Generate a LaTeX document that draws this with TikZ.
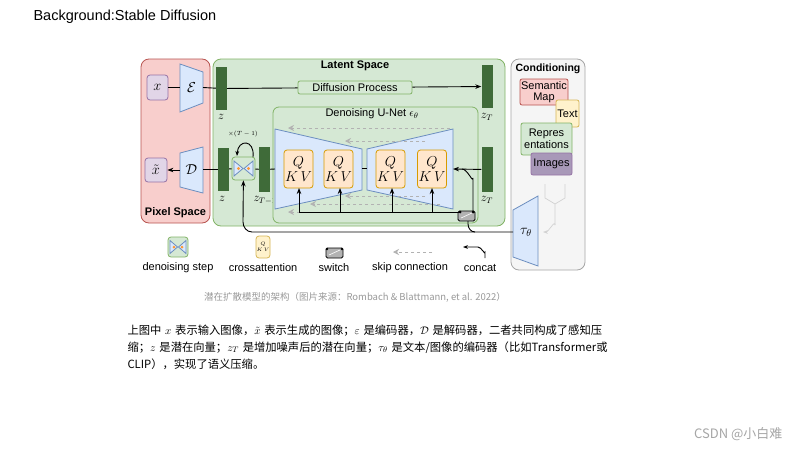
\documentclass[tikz,border=0pt]{standalone}
\usepackage{fontspec}
\setmainfont{Liberation Sans}
\newfontfamily\cjk{Noto Sans CJK SC}
\usetikzlibrary{arrows.meta}
\definecolor{pixfill}{HTML}{F8CECC}\definecolor{pixline}{HTML}{B85450}
\definecolor{latfill}{HTML}{D5E8D4}\definecolor{latline}{HTML}{82B366}
\definecolor{blufill}{HTML}{DAE8FC}\definecolor{bluline}{HTML}{6C8EBF}
\definecolor{orafill}{HTML}{FFE6CC}\definecolor{oraline}{HTML}{D79B00}
\definecolor{yelfill}{HTML}{FFF2CC}\definecolor{yelline}{HTML}{D6B656}
\definecolor{purfill}{HTML}{E1D5E7}\definecolor{purline}{HTML}{9673A6}
\definecolor{imgfill}{HTML}{A898B8}\definecolor{zbar}{HTML}{3F6B39}
\tikzset{
  bar/.style={fill=zbar, draw=none, minimum width=11pt, minimum height=43pt, inner sep=0},
  box/.style={rounded corners=3pt, line width=0.8pt, inner sep=0, align=center},
  qkv/.style={box, fill=orafill, draw=oraline, minimum width=29pt, minimum height=38pt, font=\Large},
  lab/.style={font=\fontsize{11}{11.5}\selectfont},
  flow/.style={line width=0.9pt, black},
  skip/.style={gray!60, dashed, line width=0.7pt, -{Stealth[length=6pt,width=6pt]}},
  tri/.style={fill=blufill, draw=bluline, line width=0.8pt}
}
\begin{document}
\begin{tikzpicture}[x=1pt,y=-1pt]
\useasboundingbox (0,0) rectangle (800,450);
\fill[white] (0,0) rectangle (800,450);

\node[anchor=west, font=\fontsize{14.5}{15}\selectfont] (title) at (30,17) {Background:Stable Diffusion};

% spaces
\node[box, fill=pixfill, draw=pixline, minimum width=69pt, minimum height=164pt, rounded corners=8pt] (pix) at (175.5,141) {};
\node[box, fill=latfill, draw=latline, minimum width=292pt, minimum height=167pt, rounded corners=8pt] (lat) at (359,142.5) {};
\node[box, fill=gray!8, draw=gray!70, minimum width=74pt, minimum height=211pt, rounded corners=8pt] (cond) at (548,164.5) {};
\node[font=\bfseries\fontsize{11}{12}\selectfont] (latlab) at (355,66) {Latent Space};
\node[font=\bfseries\fontsize{11}{12}\selectfont] (pixlab) at (175.5,213) {Pixel Space};
\node[font=\bfseries\fontsize{10.5}{12}\selectfont] (condlab) at (548,69) {Conditioning};

% conditioning inputs
\node[box, fill=pixfill, draw=pixline, minimum width=48pt, minimum height=26pt, lab, rounded corners=2pt] (sem) at (544,92) {Semantic\\Map};
\node[box, fill=yelfill, draw=yelline, minimum width=23pt, minimum height=27pt, lab, rounded corners=2pt] (txt) at (567.5,113.5) {Text};
\node[box, fill=latfill, draw=latline, minimum width=51pt, minimum height=32pt, lab, rounded corners=2pt] (rep) at (546.5,139) {Repres\\entations};
\node[box, fill=imgfill, draw=purline, minimum width=41pt, minimum height=22pt, lab, rounded corners=2pt] (img) at (551.5,164) {Images};
\draw[gray!35, line width=0.7pt] (545,184) -- (545,198) -- (555,204) (565,184) -- (565,198) -- (555,204) (555,204) -- (555,225);
\draw[gray!35, line width=0.7pt, -{Stealth[length=5pt]}] (555,225) to[out=90,in=0] (543,232);

% encoder / decoder
\node[box, fill=purfill, draw=purline, minimum width=21pt, minimum height=25pt, font=\Large] (x) at (157.5,87.5) {$x$};
\draw[tri] (180,64) -- (203,72) -- (203,103) -- (180,112) -- cycle;
\node[font=\Large] (E) at (191.5,88) {$\mathcal{E}$};
\node[box, fill=purfill, draw=purline, minimum width=22pt, minimum height=24pt, font=\Large] (xt) at (156,170) {$\tilde{x}$};
\draw[tri] (180,153) -- (203,147) -- (203,193) -- (180,187) -- cycle;
\node[font=\Large] (D) at (191.5,170) {$\mathcal{D}$};

% latents
\node[bar] (z1) at (221.5,88.5) {};
\node[font=\large] (z1lab) at (221,117) {$z$};
\node[bar] (zT1) at (487,86.5) {};
\node[font=\large] (zT1lab) at (487,117) {$z_T$};
\node[box, fill=latfill, draw=latline, minimum width=114pt, minimum height=13pt, lab, rounded corners=2pt] (diff) at (355,87.5) {Diffusion Process};

\node[bar] (z2) at (223.5,169) {};
\node[font=\large] (z2lab) at (222,199) {$z$};
\node[bar, minimum height=45pt] (zTm) at (264.5,169.5) {};
\node[font=\large] (zTmlab) at (265,200) {$z_{T-1}$};
\node[bar, minimum height=45pt] (zT2) at (487,169.5) {};
\node[font=\large] (zT2lab) at (487,200) {$z_T$};

% unet
\node[box, fill=latfill, draw=latline, minimum width=205pt, minimum height=116pt, rounded corners=6pt] (unet) at (375.5,165) {};
\node[lab] (unetlab) at (372,114) {Denoising U-Net $\epsilon_\theta$};
\draw[tri] (275,129) -- (362,149) -- (362,190) -- (275,209) -- cycle;
\draw[tri] (367,149) -- (453,129) -- (453,209) -- (367,190) -- cycle;
\coordinate (uin) at (275,169);
\coordinate (uout) at (453,169);
\draw[skip] (450,128) -- (288,128);
\draw[skip] (425,141) -- (345,141);
\draw[skip] (425,196) -- (345,196);
\draw[skip] (440,204) -- (310,204);
\draw[skip] (450,212) -- (288,212);
\draw[flow] (362,168) -- (367,168);
\node[qkv] (q1) at (298.5,169) {$Q$\\[-3pt]$K\,V$};
\node[qkv] (q2) at (338.5,169) {$Q$\\[-3pt]$K\,V$};
\node[qkv] (q3) at (390.5,169) {$Q$\\[-3pt]$K\,V$};
\node[qkv] (q4) at (432,169) {$Q$\\[-3pt]$K\,V$};

% denoising step
\node[box, fill=latfill, draw=latline, minimum width=23pt, minimum height=23pt] (step) at (243.5,168.5) {};
\filldraw[fill=blufill, draw=bluline, line width=0.8pt] (234,161) -- (243,168.5) -- (234,176) -- cycle;
\filldraw[fill=blufill, draw=bluline, line width=0.8pt] (253,161) -- (244,168.5) -- (253,176) -- cycle;
\fill[orange!80] (238.5,168.5) circle (1.7) (248.5,168.5) circle (1.7);
\node[font=\fontsize{6.5}{7}\selectfont] (looplab) at (243,134) {$\times(T-1)$};
\draw[flow, -{Stealth[length=5pt]}] (253,157) .. controls (255,139) and (238,139) .. (237,156);

% main flow
\draw[flow] (x) -- (180,87.5);
\draw[flow] (203,87.5) -- (z1);
\draw[flow, -{Stealth[length=6pt]}] (z1) -- (diff) -- (zT1);
\draw[flow, -{Stealth[length=6pt]}] (180,170) -- (xt);
\draw[flow] (z2) -- (203,169);
\draw[flow] (step) -- (z2);
\draw[flow] (zTm) -- (step);
\draw[flow] (uin) -- (zTm);
\draw[flow, -{Stealth[length=6pt]}] (zT2) -- (uout);

% switch and conditioning paths
\node[box, fill=gray!60, draw=black, minimum width=17pt, minimum height=10pt, rounded corners=1.5pt] (sw) at (466.5,216) {};
\draw[white, line width=0.6pt] (461,218) -- (472,213);
\coordinate (swl) at (460,212);
\coordinate (swr) at (473,212);
\fill (swl) circle (1.5) (swr) circle (1.5);
\draw[flow] (299,212) -- (swl);
\foreach \q/\xx in {q1/299,q2/340,q3/392,q4/432}
  \draw[flow, -{Stealth[length=6pt]}] (\xx,212) -- (\xx,188);
\draw[flow] (swr) -- (473,178) to[out=-90,in=0] (462,169);
\draw[tri] (513,210) -- (538,196) -- (538,266) -- (513,257) -- cycle;
\node[font=\Large] (tau) at (526,232) {$\tau_\theta$};
\draw[flow, -{Stealth[length=6pt]}] (513,232) -- (252,232) to[out=180,in=-90] (243,222) -- (step);
\draw[flow] (475,232) to[out=180,in=-90] (468,224) -- (468,221);

% legend
\node[box, fill=latfill, draw=latline, minimum width=20pt, minimum height=20pt] (lgstep) at (178,247) {};
\filldraw[fill=blufill, draw=bluline, line width=0.8pt] (170,240.5) -- (177.5,247) -- (170,253.5) -- cycle;
\filldraw[fill=blufill, draw=bluline, line width=0.8pt] (186,240.5) -- (178.5,247) -- (186,253.5) -- cycle;
\fill[orange!80] (174,247) circle (1.5) (182,247) circle (1.5);
\node[lab] (lgsteplab) at (178,268) {denoising step};
\node[box, fill=yelfill, draw=yelline, minimum width=14pt, minimum height=22pt, font=\fontsize{5}{5.5}\selectfont] (lgqkv) at (263,247) {$Q$\\$K\,V$};
\node[lab] (lgqkvlab) at (263,268) {crossattention};
\node[box, fill=gray!60, draw=black, minimum width=17pt, minimum height=10pt, rounded corners=1.5pt] (lgsw) at (334.5,253) {};
\draw[white, line width=0.6pt] (329,255) -- (340,250);
\fill (327,249) circle (1.3) (342,249) circle (1.3);
\node[lab] (lgswlab) at (334,268) {switch};
\coordinate (sk1) at (432,252);
\coordinate (sk2) at (393,252);
\draw[skip] (sk1) -- (sk2);
\node[lab] (lgsklab) at (410,268) {skip connection};
\coordinate (cc1) at (485,258);
\coordinate (cc2) at (463,247);
\draw[flow, -{Stealth[length=5pt]}] (cc1) -- (485,252) to[out=-90,in=0] (478,247) -- (cc2);
\node[lab] (lgcclab) at (480,268) {concat};

% text below
\node[text=gray!80, font=\cjk\fontsize{9.5}{10}\selectfont] (cap) at (355,297) {潜在扩散模型的架构（图片来源：Rombach \& Blattmann, et al. 2022）};
\node[anchor=north west, align=left, font=\cjk\fontsize{11.3}{17}\selectfont, text width=560pt] (para) at (124,321)
  {上图中 $x$ 表示输入图像，$\tilde{x}$ 表示生成的图像；$\varepsilon$ 是编码器，$\mathcal{D}$ 是解码器，二者共同构成了感知压\\缩；$z$ 是潜在向量；$z_T$ 是增加噪声后的潜在向量；$\tau_\theta$ 是文本/图像的编码器（比如Transformer或\\CLIP），实现了语义压缩。};
\node[anchor=east, text=gray!70, font=\cjk\fontsize{13}{14}\selectfont] (mark) at (786,434) {CSDN @小白难};
\end{tikzpicture}
\end{document}
